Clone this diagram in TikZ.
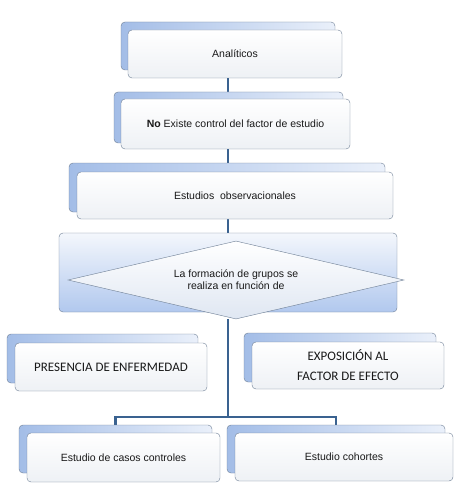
\documentclass[tikz,border=0pt]{standalone}
\usepackage{fontspec}
\setmainfont{Liberation Sans}
\newfontfamily\calibri{Carlito}
\usepackage{tikz}
\usetikzlibrary{backgrounds}
\usetikzlibrary{shapes.geometric}
\usetikzlibrary{positioning}
\definecolor{Borde}{HTML}{6D7E94}
\definecolor{Linea}{HTML}{3A6290}
\definecolor{FondoIzq}{HTML}{A3BDE7}
\definecolor{FondoDer}{HTML}{EAF0FA}
\definecolor{FrenteAbajo}{HTML}{EEF1F5}
\definecolor{DecArriba}{HTML}{F4F7FC}
\definecolor{DecAbajo}{HTML}{B1C8EE}
\tikzset{
  Fondo/.style 2 args={draw=Borde,rounded corners=4pt,left color=FondoIzq,right color=FondoDer,
    minimum width=#1,minimum height=#2,inner sep=0pt}, % Caja de fondo
  Caja/.style 2 args={draw=Borde,rounded corners=4pt,top color=white,bottom color=FrenteAbajo,
    minimum width=#1,minimum height=#2,inner sep=0pt,align=center}, % Caja delantera
  Mayus/.style={font={\calibri\fontsize{13}{20}\selectfont}}, % Texto en mayusculas
  Conector/.style={draw=Linea,line width=2.2pt} % Lineas de union
}

\begin{document}
\begin{tikzpicture}[x=1pt,y=-1pt,
font=\fontsize{10.5}{12}\selectfont,
text=black!90
]
\useasboundingbox (0,0) rectangle (474,489);

%Eje central
\coordinate (Eje) at (228,0);
\coordinate (Rama) at (228,417);

%Cajas
\node[Fondo={214}{48}] (AnaF) at (228,46) {};
\node[Caja={214}{48}] (Ana) at ([shift={(7,8)}]AnaF) {Analíticos};

\node[Fondo={229}{51}] (NoExF) at (228.5,117.5) {};
\node[Caja={229}{50}] (NoEx) at ([shift={(7,6.5)}]NoExF) {\textbf{No} Existe control del factor de estudio};

\node[Fondo={316}{49}] (EstObsF) at (227,187.5) {};
\node[Caja={316}{47}] (EstObs) at ([shift={(8,8)}]EstObsF) {Estudios\ \ observacionales};

%Decision
\node[draw=Borde,rounded corners=4pt,top color=DecArriba,bottom color=DecAbajo,
  minimum width=338,minimum height=79,inner sep=0pt] (DecF) at (228,272.5) {};
\node[diamond,aspect=4.3,draw=Borde,top color=white,bottom color=FrenteAbajo!80!FondoIzq,
  minimum width=336,minimum height=78,inner sep=0pt,align=center] (Dec) at (236,280)
  {La formación de grupos se\\ realiza en función de};

%Criterios
\node[Fondo={191}{49}] (PresF) at (102.5,358.5) {};
\node[Caja={192}{48},Mayus] (Pres) at ([shift={(8.5,8.5)}]PresF) {PRESENCIA DE ENFERMEDAD};

\node[Fondo={192}{49}] (ExpoF) at (340,357.5) {};
\node[Caja={192}{47},Mayus] (Expo) at ([shift={(8,8)}]ExpoF) {EXPOSICIÓN AL\\ FACTOR DE EFECTO};

%Estudios
\node[Fondo={193}{48}] (CasosF) at (115.5,449) {};
\node[Caja={193}{49}] (Casos) at ([shift={(8,8.5)}]CasosF) {Estudio de casos controles};

\node[Fondo={218}{48}] (CohF) at (336,449) {};
\node[Caja={218}{48}] (Coh) at ([shift={(8,8)}]CohF) {Estudio cohortes};

%Conectores
\begin{scope}[on background layer]
\draw[Conector] (Ana.south -| Eje) -- (NoExF.north -| Eje);
\draw[Conector] (NoEx.south -| Eje) -- (EstObsF.north -| Eje);
\draw[Conector] (EstObs.south -| Eje) -- (DecF.north -| Eje);
\draw[Conector] (Dec.south -| Eje) -- (Rama);
\draw[Conector] (CasosF.north) |- (Rama) -| (CohF.north);
\end{scope}
\end{tikzpicture}
\end{document}
